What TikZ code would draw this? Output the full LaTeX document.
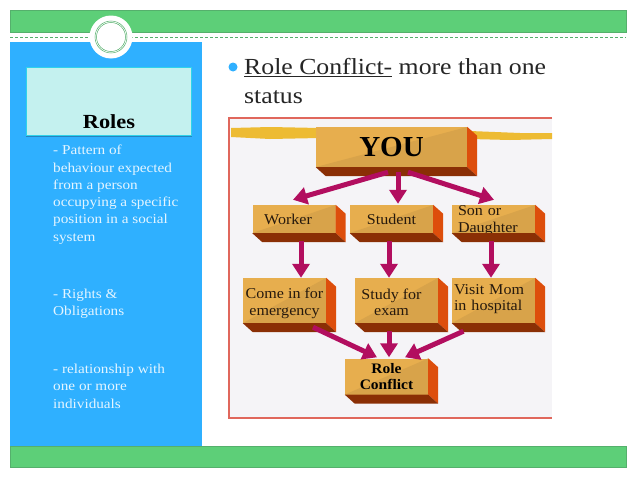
\documentclass[tikz,border=0pt]{standalone}
\usepackage{fontspec}
\setmainfont{Liberation Serif}
\newfontfamily\widefont[FakeStretch=1.12]{Liberation Serif}
\newfontfamily\blockfont[FakeStretch=1.07]{Liberation Serif}
\usepackage{xcolor}
\usetikzlibrary{arrows.meta,calc}
\definecolor{bandgreen}{HTML}{5DCF78}
\definecolor{edgegreen}{HTML}{55B06C}
\definecolor{panelblue}{HTML}{2FB0FF}
\definecolor{titlefill}{HTML}{C4F1EF}
\definecolor{titleedge}{HTML}{2FD3EA}
\definecolor{paneltext}{HTML}{E4F5FF}
\definecolor{chartedge}{HTML}{E0675C}
\definecolor{chartfill}{HTML}{F5F4F7}
\definecolor{brushgold}{HTML}{EDBB33}
\definecolor{blocklight}{HTML}{E7AE4E}
\definecolor{blockdark}{HTML}{D8A34A}
\definecolor{blockside}{HTML}{DD4E0C}
\definecolor{blockbase}{HTML}{8A2F05}
\definecolor{flowred}{HTML}{B20E5F}
\tikzstyle{band}=[fill=bandgreen, draw=edgegreen, line width=0.6pt]
\tikzstyle{paneltxt}=[anchor=north west, inner sep=0pt, align=left, text=paneltext, font=\widefont\fontsize{13.6}{17.3}\selectfont]
\tikzstyle{blockbox}=[minimum width=83pt, minimum height=28pt, inner sep=0pt, align=center, text=black!80!brown, font=\blockfont\fontsize{15}{16.5}\selectfont,
  path picture={\fill[blocklight] (path picture bounding box.south west) rectangle (path picture bounding box.north east);
    \fill[blockdark] (path picture bounding box.south west) -- (path picture bounding box.north east) -- (path picture bounding box.south east) -- cycle;}]
\tikzstyle{flow}=[draw=flowred, line width=5pt, -{Triangle[length=14pt,width=17pt]}]

\begin{document}
\begin{tikzpicture}[x=1pt,y=-1pt]
\useasboundingbox (0,0) rectangle (638,479);
\fill[white] (0,0) rectangle (638,479);
\coordinate (bandnw) at (10,10);
\coordinate (bandne) at (626,32);
\coordinate (footnw) at (10,446);
\coordinate (footse) at (626,467);
\draw[band] (bandnw) rectangle (bandne);
\draw[band] (footnw) rectangle (footse);
\draw[edgegreen, densely dashed, line width=0.5pt] (10,37) -- (626,37);
\fill[panelblue] (10,42) rectangle (202,446);
\fill[white] (111,37) circle (21.5);
\draw[edgegreen, line width=0.5pt] (111,37) circle (16);
\draw[edgegreen, line width=0.5pt] (111,37) circle (14.5);
\fill[black!25!panelblue] (26,69) rectangle (192,137);
\draw[titleedge, fill=titlefill, line width=0.7pt] (26,67) rectangle (191,135);
\node[font=\widefont\fontsize{20}{21}\bfseries\selectfont] (roles) at (109,122) {Roles};
\node[paneltxt] (pattern) at (53,145) {- Pattern of\\behaviour expected\\from a person\\occupying a specific\\position in a social\\system};
\node[paneltxt] (rights) at (53,289) {- Rights \&\\Obligations};
\node[paneltxt] (relation) at (53,364) {- relationship with\\one or more\\individuals};
\fill[panelblue] (233,67) circle (4.5);
\node[anchor=north west, inner sep=0pt, align=left, font=\widefont\fontsize{23}{29}\selectfont, text=black!85] (heading) at (244,58) {\underline{Role Conflict-} more than one\\status};
\fill[chartfill] (229,118) rectangle (552,418);
\draw[chartedge, line width=1.4pt] (552,118) -- (229,118) -- (229,418) -- (552,418);
\fill[brushgold] (231,128) -- (270,127) -- (320,128) -- (320,138) -- (270,139) -- (231,137) -- cycle;
\fill[brushgold] (470,131) -- (520,133) -- (552,133) -- (552,139) -- (510,140) -- (470,139) -- cycle;
\node[blockbox, minimum width=151pt, minimum height=40pt, font=\fontsize{29}{30}\bfseries\selectfont, text=black] (you) at (391.5,147) {YOU};
\node[blockbox] (worker) at (294,219) {Worker\hspace*{12pt}};
\node[blockbox] (student) at (391.5,219) {Student};
\node[blockbox, text width=71pt, align=left] (son) at (493.5,219) {\raisebox{-13pt}[0pt][0pt]{\begin{tabular}[b]{@{}l@{}}Son or\\Daughter\end{tabular}}};
\node[blockbox, minimum height=45pt] (come) at (284.5,300.5) {\rule{0pt}{16pt}Come in for\\emergency};
\node[blockbox, minimum height=45pt] (study) at (396.5,300.5) {\rule{0pt}{14pt}Study for\hspace*{10pt}\\exam\hspace*{10pt}};
\node[blockbox, minimum height=45pt, text width=79pt, align=left] (visit) at (493.5,300.5) {Visit Mom\\in hospital\\[-11pt]\mbox{}};
\node[blockbox, minimum height=36pt, font=\blockfont\fontsize{14.5}{16}\bfseries\selectfont, text=black] (role) at (386.5,376.5) {Role\\Conflict};
\foreach \b in {you,worker,student,son,come,study,visit,role}{
  \fill[blockside] (\b.north east) -- ++(10,9) -- ($(\b.south east)+(10,9)$) -- (\b.south east) -- cycle;
  \fill[blockbase] (\b.south west) -- ++(10,9) -- ($(\b.south east)+(10,9)$) -- (\b.south east) -- cycle;
}
\draw[flow] ([xshift=-3.5pt,yshift=-5pt]you.south) -- ([xshift=-1pt,yshift=5pt]worker.north);
\draw[flow] ([xshift=6.5pt,yshift=-5pt]you.south) -- ([xshift=6.5pt,yshift=1pt]student.north);
\draw[flow] ([xshift=16.5pt,yshift=-5pt]you.south) -- ([xshift=0.5pt,yshift=5pt]son.north);
\draw[flow] ([xshift=7pt,yshift=-8pt]worker.south) -- ([xshift=16.5pt]come.north);
\draw[flow] ([xshift=-2.5pt,yshift=-8pt]student.south) -- ([xshift=-7.5pt]study.north);
\draw[flow] ([xshift=-2.5pt,yshift=-8pt]son.south) -- ([xshift=-2.5pt]visit.north);
\draw[flow] ([xshift=28.5pt,yshift=-4pt]come.south) -- ([xshift=-9.5pt,yshift=1pt]role.north);
\draw[flow] ([xshift=-7.5pt,yshift=-8pt]study.south) -- ([xshift=2.5pt,yshift=1pt]role.north);
\draw[flow] ([xshift=-30pt,yshift=-8pt]visit.south) -- ([xshift=18.5pt,yshift=1pt]role.north);
\end{tikzpicture}
\end{document}
